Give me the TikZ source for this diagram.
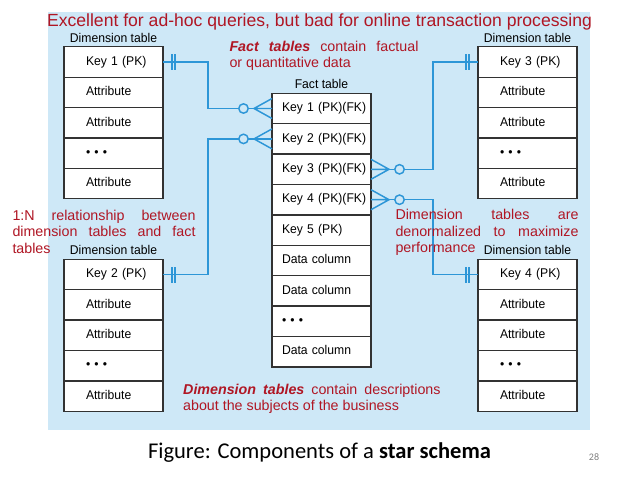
\documentclass[tikz,border=0pt]{standalone}
\usepackage{fontspec}
\setmainfont{Liberation Sans}
\newfontfamily\cellfont[FakeStretch=0.96]{Liberation Sans}
\newfontfamily\capfont{Carlito}
\usetikzlibrary{positioning}

\definecolor{panelblue}{RGB}{206,232,247}
\definecolor{linkblue}{RGB}{45,150,215}
\definecolor{notered}{RGB}{176,22,36}
\definecolor{cellline}{RGB}{50,50,50}

\tikzset{every picture/.style={line width=0.75pt}}
\tikzset{
  cell/.style={draw=cellline, line width=1pt, fill=white, outer sep=0pt, inner xsep=0pt, inner ysep=0pt,
    text width=74.25pt, minimum height=22.8pt, text height=6.9pt, text depth=2pt, align=left,
    font=\cellfont\fontsize{9.5}{10.5}\selectfont},
  dimcell/.style={cell, execute at begin node={\hspace*{16.5pt}}},
  factcell/.style={cell, execute at begin node={\hspace*{7.5pt}}},
  tablehead/.style={inner sep=1pt, font=\cellfont\fontsize{9.5}{10.5}\selectfont},
  link/.style={draw=linkblue, line width=1.1pt},
  note/.style={inner sep=0pt, text=notered, align=justify, font=\fontsize{10.7}{12.5}\selectfont},
  pics/zeromany/.style={code={
    \draw[link] (0,-10) -- (-18,0) -- (0,10) (0,0) -- (-18,0);
    \draw[link, fill=panelblue] (-28.5,0) circle [radius=4.7];
  }},
  pics/onlyone/.style={code={
    \draw[link] (9,-8) -- (9,8) (12,-8) -- (12,8);
  }},
}

\begin{document}
\begin{tikzpicture}[x=0.75pt,y=0.75pt,yscale=-1,xscale=1]
	\useasboundingbox (0,0) rectangle (638,478);
	\fill[white] (0,0) rectangle (638,478);
	%panel
	\fill[panelblue] (48,12) rectangle (590,430);
	
	% Title
	\node[anchor=base, text=notered, font=\fontsize{13.2}{15}\selectfont, inner sep=0pt] (title) at (319.5,26.7) {Excellent for ad-hoc queries, but bad for online transaction processing};
	
	% Dimension table, top left
	\node[dimcell] (dimA1) at (113.5,62) {Key~1~(PK)};
	\node[dimcell, below=0pt of dimA1] (dimA2) {Attribute};
	\node[dimcell, below=0pt of dimA2] (dimA3) {Attribute};
	\node[dimcell, below=0pt of dimA3] (dimA4) {\textbullet\ \textbullet\ \textbullet};
	\node[dimcell, below=0pt of dimA4] (dimA5) {Attribute};
	\node[tablehead, above=2pt of dimA1] (dimAhead) {Dimension table};
	
	% Dimension table, bottom left
	\node[dimcell] (dimB1) at (113.5,274.5) {Key~2~(PK)};
	\node[dimcell, below=0pt of dimB1] (dimB2) {Attribute};
	\node[dimcell, below=0pt of dimB2] (dimB3) {Attribute};
	\node[dimcell, below=0pt of dimB3] (dimB4) {\textbullet\ \textbullet\ \textbullet};
	\node[dimcell, below=0pt of dimB4] (dimB5) {Attribute};
	\node[tablehead, above=2pt of dimB1] (dimBhead) {Dimension table};
	
	% Dimension table, top right
	\node[dimcell] (dimC1) at (527.5,62) {Key~3~(PK)};
	\node[dimcell, below=0pt of dimC1] (dimC2) {Attribute};
	\node[dimcell, below=0pt of dimC2] (dimC3) {Attribute};
	\node[dimcell, below=0pt of dimC3] (dimC4) {\textbullet\ \textbullet\ \textbullet};
	\node[dimcell, below=0pt of dimC4] (dimC5) {Attribute};
	\node[tablehead, above=2pt of dimC1] (dimChead) {Dimension table};
	
	% Dimension table, bottom right
	\node[dimcell] (dimD1) at (527.5,274.5) {Key~4~(PK)};
	\node[dimcell, below=0pt of dimD1] (dimD2) {Attribute};
	\node[dimcell, below=0pt of dimD2] (dimD3) {Attribute};
	\node[dimcell, below=0pt of dimD3] (dimD4) {\textbullet\ \textbullet\ \textbullet};
	\node[dimcell, below=0pt of dimD4] (dimD5) {Attribute};
	\node[tablehead, above=2pt of dimD1] (dimDhead) {Dimension table};
	
	% Fact table
	\node[factcell] (fact1) at (321.5,108.5) {Key~1~(PK)(FK)};
	\node[factcell, below=0pt of fact1] (fact2) {Key~2~(PK)(FK)};
	\node[factcell, below=0pt of fact2] (fact3) {Key~3~(PK)(FK)};
	\node[factcell, below=0pt of fact3] (fact4) {Key~4~(PK)(FK)};
	\node[factcell, below=0pt of fact4] (fact5) {Key~5~(PK)};
	\node[factcell, below=0pt of fact5] (fact6) {Data column};
	\node[factcell, below=0pt of fact6] (fact7) {Data column};
	\node[factcell, below=0pt of fact7] (fact8) {\textbullet\ \textbullet\ \textbullet};
	\node[factcell, below=0pt of fact8] (fact9) {Data column};
	\node[tablehead, above=2pt of fact1] (facthead) {Fact table};
	
	% Relationships
	\draw[link] (dimA1.east) -- ++(45,0) |- (fact1.west);
	\draw[link] (dimB1.east) -- ++(45,0) |- (fact2.west);
	\draw[link] (dimC1.west) -- ++(-45,0) |- (fact3.east);
	\draw[link] (dimD1.west) -- ++(-45,0) |- (fact4.east);
	\pic at (fact1.west) {zeromany};
	\pic at (fact2.west) {zeromany};
	\pic[xscale=-1] at (fact3.east) {zeromany};
	\pic[xscale=-1] at (fact4.east) {zeromany};
	\pic at (dimA1.east) {onlyone};
	\pic at (dimB1.east) {onlyone};
	\pic[xscale=-1] at (dimC1.west) {onlyone};
	\pic[xscale=-1] at (dimD1.west) {onlyone};
	
	% Notes
	\node[note, anchor=base west, text width=141.75pt] (factnote) at (229,51) {\textbf{\textit{Fact tables}} contain factual\linebreak or quantitative data};
	\node[note, anchor=base west, text width=137.25pt] (cardnote) at (12,220) {1:N relationship between\linebreak dimension tables and fact\linebreak tables};
	\node[note, anchor=base west, text width=137.25pt] (denormnote) at (395,219.5) {Dimension tables are\linebreak denormalized to maximize\linebreak performance};
	\node[note, anchor=base west, text width=193pt] (dimnote) at (182.7,394) {\textbf{\textit{Dimension tables}} contain descriptions\linebreak about the subjects of the business};
	
	% Caption
	\node[anchor=base, font=\capfont\fontsize{16.9}{19}\selectfont, inner sep=0pt] (caption) at (319.5,458) {Figure: Components of a \textbf{star schema}};
	\node[anchor=base, font=\capfont\fontsize{7.5}{9}\selectfont, text=gray, inner sep=0pt] (pagenum) at (594,460) {28};
	
\end{tikzpicture}
\end{document}
